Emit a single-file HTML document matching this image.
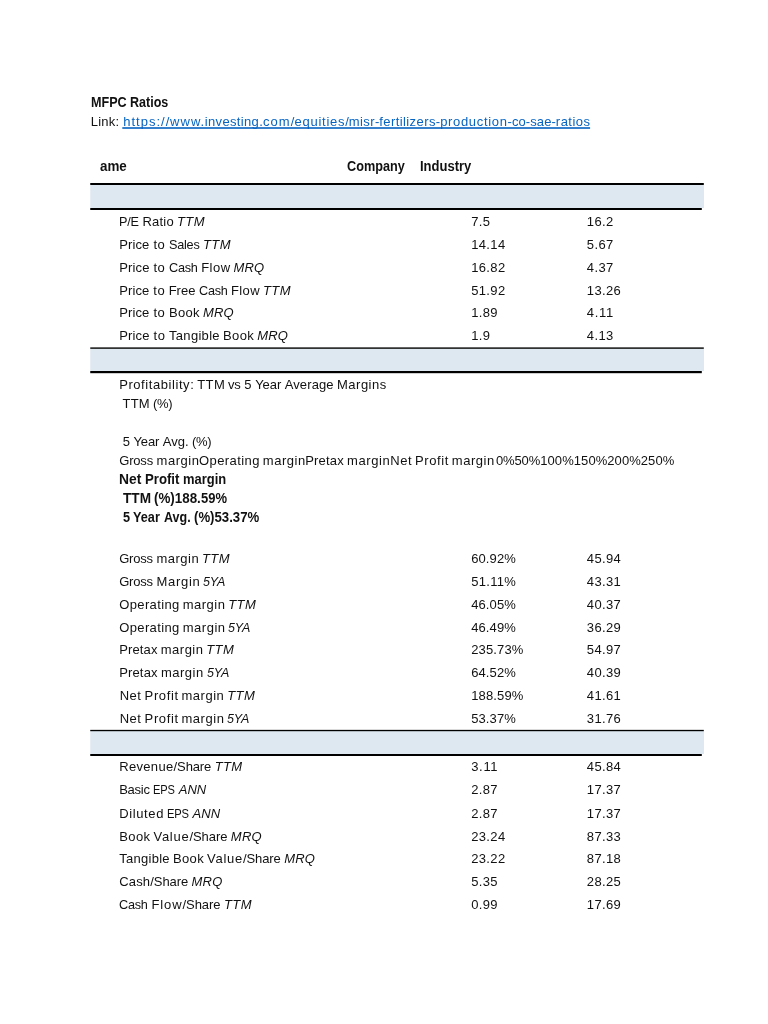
<!DOCTYPE html>
<html lang="en"><head><meta charset="utf-8"><title>MFPC Ratios</title>
<style>
html,body{margin:0;padding:0;background:#fff}
body{width:768px;height:1024px;position:relative;overflow:hidden;font-family:"Liberation Sans",sans-serif;font-size:13px;color:#111}
.bg{position:absolute;left:0;top:0}
.t{position:absolute;left:0;width:768px;height:20px;line-height:20px;margin:0;white-space:pre}
.t span,.t b,.t i{position:absolute;top:0;transform-origin:0 50%}
.t b{font-weight:bold} .t i{font-style:italic}
.h{font-size:15.2px}
.lnk{color:#0563c1;text-decoration:none}
</style></head><body>
<svg class="bg" width="768" height="1024" viewBox="0 0 768 1024">
<rect x="90.25" y="185.0" width="613.75" height="23.00" fill="#dee8f1"/>
<rect x="90.25" y="183.0" width="613.55" height="2.00" fill="#000"/>
<rect x="90.25" y="208.0" width="611.55" height="2.00" fill="#000"/>
<rect x="90.25" y="348.8" width="613.75" height="22.20" fill="#dee8f1"/>
<rect x="90.25" y="347.4" width="613.55" height="1.40" fill="#000"/>
<rect x="90.25" y="371.0" width="611.55" height="2.20" fill="#000"/>
<rect x="90.25" y="731.0" width="613.75" height="23.00" fill="#dee8f1"/>
<rect x="90.25" y="729.85" width="613.55" height="1.35" fill="#000"/>
<rect x="90.25" y="754.0" width="611.55" height="2.00" fill="#000"/>
<rect x="122.3" y="127.2" width="467.8" height="1.6" fill="#0563c1"/>
</svg>
<div class="t h" style="top:92.20px"><b style="left:90.80px;transform:scaleX(0.8300)">MFPC </b><b style="left:129.88px;transform:scaleX(0.8255)">Ratios</b></div>
<div class="t" style="top:111.80px"><span style="left:90.80px;letter-spacing:0.207px">Link: </span><a class="lnk"><span style="left:123.24px;letter-spacing:1.000px">https://</span><span style="left:170.11px;letter-spacing:1.000px">www.</span><span style="left:204.72px;letter-spacing:0.350px">investing.</span><span style="left:263.10px;letter-spacing:1.000px">com/</span><span style="left:294.50px;letter-spacing:0.739px">equities/</span><span style="left:348.76px;letter-spacing:0.429px">misr-</span><span style="left:379.37px;letter-spacing:0.401px">fertilizers-</span><span style="left:440.13px;letter-spacing:0.673px">production-</span><span style="left:511.90px;letter-spacing:0.093px">co-sae-</span><span style="left:555.83px;letter-spacing:0.475px">ratios</span></a></div>
<div class="t h" style="top:156.30px"><b style="left:100.20px;transform:scaleX(0.8815)">ame </b><b style="left:346.70px;transform:scaleX(0.8338)">Company </b><b style="left:420.00px;transform:scaleX(0.8561)">Industry</b></div>
<div class="t" style="top:212.25px"><span style="left:119.20px;letter-spacing:-0.250px;transform:scaleX(0.9733)">P/E </span><span style="left:142.48px;letter-spacing:0.214px">Ratio </span><i style="left:177.06px;letter-spacing:0.357px">TTM </i><span style="left:471.20px;letter-spacing:0.397px">7.5 </span><span style="left:586.80px;letter-spacing:0.370px">16.2</span></div>
<div class="t" style="top:235.00px"><span style="left:119.20px;letter-spacing:0.124px">Price </span><span style="left:153.43px;letter-spacing:0.450px">to </span><span style="left:168.82px;letter-spacing:-0.250px;transform:scaleX(0.9749)">Sales </span><i style="left:202.94px;letter-spacing:0.416px">TTM </i><span style="left:471.20px;letter-spacing:0.357px">14.14 </span><span style="left:586.80px;letter-spacing:0.370px">5.67</span></div>
<div class="t" style="top:257.75px"><span style="left:119.20px;letter-spacing:0.142px">Price </span><span style="left:153.52px;letter-spacing:0.450px">to </span><span style="left:168.94px;letter-spacing:-0.250px;transform:scaleX(0.9761)">Cash </span><span style="left:201.23px;letter-spacing:0.463px">Flow </span><i style="left:233.49px;letter-spacing:0.208px">MRQ </i><span style="left:471.20px;letter-spacing:0.357px">16.82 </span><span style="left:586.80px;letter-spacing:0.370px">4.37</span></div>
<div class="t" style="top:280.50px"><span style="left:119.20px;letter-spacing:0.106px">Price </span><span style="left:153.33px;letter-spacing:0.450px">to </span><span style="left:168.70px;letter-spacing:-0.014px">Free </span><span style="left:198.77px;letter-spacing:-0.250px;transform:scaleX(0.9714)">Cash </span><span style="left:230.90px;letter-spacing:0.417px">Flow </span><i style="left:263.01px;letter-spacing:0.383px">TTM </i><span style="left:471.20px;letter-spacing:0.357px">51.92 </span><span style="left:586.80px;letter-spacing:0.357px">13.26</span></div>
<div class="t" style="top:303.25px"><span style="left:119.20px;letter-spacing:0.135px">Price </span><span style="left:153.49px;letter-spacing:0.450px">to </span><span style="left:168.90px;letter-spacing:0.358px">Book </span><i style="left:203.02px;letter-spacing:0.194px">MRQ </i><span style="left:471.20px;letter-spacing:0.370px">1.89 </span><span style="left:586.80px;letter-spacing:0.693px">4.11</span></div>
<div class="t" style="top:326.00px"><span style="left:119.20px;letter-spacing:0.157px">Price </span><span style="left:153.60px;letter-spacing:0.450px">to </span><span style="left:169.04px;letter-spacing:0.299px">Tangible </span><span style="left:222.96px;letter-spacing:0.387px">Book </span><i style="left:257.18px;letter-spacing:0.238px">MRQ </i><span style="left:471.20px;letter-spacing:0.397px">1.9 </span><span style="left:586.80px;letter-spacing:0.370px">4.13</span></div>
<div class="t" style="top:374.75px"><span style="left:119.20px;letter-spacing:0.569px">Profitability: </span><span style="left:197.20px;letter-spacing:0.450px">TTM </span><span style="left:228.12px;letter-spacing:-0.250px">vs </span><span style="left:244.35px">5 </span><span style="left:255.15px;letter-spacing:-0.063px">Year </span><span style="left:284.64px;letter-spacing:0.130px">Average </span><span style="left:337.00px;letter-spacing:0.501px">Margins</span></div>
<div class="t" style="top:394.10px"><span style="left:122.50px;letter-spacing:0.232px">TTM </span><span style="left:152.90px;letter-spacing:-0.250px">(%)</span></div>
<div class="t" style="top:431.60px"><span style="left:122.67px">5 </span><span style="left:133.45px;letter-spacing:-0.089px">Year </span><span style="left:162.85px;letter-spacing:-0.019px">Avg. </span><span style="left:191.95px;letter-spacing:-0.237px">(%)</span></div>
<div class="t" style="top:451.00px"><span style="left:119.20px;letter-spacing:-0.169px">Gross </span><span style="left:156.58px;letter-spacing:0.542px">margin</span><span style="left:199.04px;letter-spacing:0.410px">Operating </span><span style="left:262.79px;letter-spacing:0.542px">margin</span><span style="left:305.25px;letter-spacing:0.172px">Pretax </span><span style="left:347.07px;letter-spacing:0.564px">marginNet </span><span style="left:414.94px;letter-spacing:0.634px">Profit </span><span style="left:451.84px;letter-spacing:0.542px">margin</span><span style="left:496.00px;letter-spacing:-0.144px">0%50%</span><span style="left:540.23px;letter-spacing:0.090px">100%</span><span style="left:573.75px;letter-spacing:0.090px">150%</span><span style="left:607.27px;letter-spacing:0.090px">200%</span><span style="left:640.78px;letter-spacing:0.090px">250%</span></div>
<div class="t h" style="top:468.50px"><b style="left:119.20px;transform:scaleX(0.9113)">Net </b><b style="left:144.87px;transform:scaleX(0.8668)">Profit </b><b style="left:182.61px;transform:scaleX(0.8528)">margin</b></div>
<div class="t h" style="top:487.50px"><b style="left:122.50px;transform:scaleX(0.8967)">TTM </b><b style="left:153.87px;transform:scaleX(0.8805)">(%)188.</b><b style="left:200.70px;transform:scaleX(0.8551)">59%</b></div>
<div class="t h" style="top:506.80px"><b style="left:122.75px;transform:scaleX(0.8358)">5 </b><b style="left:133.32px;transform:scaleX(0.8358)">Year </b><b style="left:163.52px;transform:scaleX(0.8223)">Avg. </b><b style="left:193.50px;transform:scaleX(0.8683)">(%)53.37%</b></div>
<div class="t" style="top:549.30px"><span style="left:119.20px;letter-spacing:-0.207px">Gross </span><span style="left:156.41px;letter-spacing:0.504px">margin </span><i style="left:202.05px;letter-spacing:0.365px">TTM </i><span style="left:471.20px;letter-spacing:0.106px">60.92% </span><span style="left:586.80px;letter-spacing:0.357px">45.94</span></div>
<div class="t" style="top:572.10px"><span style="left:119.20px;letter-spacing:-0.184px">Gross </span><span style="left:156.51px;letter-spacing:0.694px">Margin </span><i style="left:203.11px;letter-spacing:-0.250px;transform:scaleX(0.9587)">5YA </i><span style="left:471.20px;letter-spacing:0.297px">51.11% </span><span style="left:586.80px;letter-spacing:0.357px">43.31</span></div>
<div class="t" style="top:594.80px"><span style="left:119.20px;letter-spacing:0.376px">Operating </span><span style="left:182.67px;letter-spacing:0.504px">margin </span><i style="left:228.30px;letter-spacing:0.364px">TTM </i><span style="left:471.20px;letter-spacing:0.106px">46.05% </span><span style="left:586.80px;letter-spacing:0.357px">40.37</span></div>
<div class="t" style="top:617.60px"><span style="left:119.20px;letter-spacing:0.382px">Operating </span><span style="left:182.72px;letter-spacing:0.511px">margin </span><i style="left:228.40px;letter-spacing:-0.250px;transform:scaleX(0.9569)">5YA </i><span style="left:471.20px;letter-spacing:0.106px">46.49% </span><span style="left:586.80px;letter-spacing:0.357px">36.29</span></div>
<div class="t" style="top:640.40px"><span style="left:119.20px;letter-spacing:0.126px">Pretax </span><span style="left:160.77px;letter-spacing:0.491px">margin </span><i style="left:206.34px;letter-spacing:0.344px">TTM </i><span style="left:471.20px;letter-spacing:0.142px">235.73% </span><span style="left:586.80px;letter-spacing:0.357px">54.97</span></div>
<div class="t" style="top:663.00px"><span style="left:119.20px;letter-spacing:0.151px">Pretax </span><span style="left:160.91px;letter-spacing:0.519px">margin </span><i style="left:206.63px;letter-spacing:-0.250px;transform:scaleX(0.9579)">5YA </i><span style="left:471.20px;letter-spacing:0.106px">64.52% </span><span style="left:586.80px;letter-spacing:0.357px">40.39</span></div>
<div class="t" style="top:685.80px"><span style="left:119.63px;letter-spacing:0.450px">Net </span><span style="left:144.58px;letter-spacing:0.626px">Profit </span><span style="left:181.43px;letter-spacing:0.531px">margin </span><i style="left:227.21px;letter-spacing:0.409px">TTM </i><span style="left:471.20px;letter-spacing:0.142px">188.59% </span><span style="left:586.80px;letter-spacing:0.357px">41.61</span></div>
<div class="t" style="top:708.60px"><span style="left:119.64px;letter-spacing:0.450px">Net </span><span style="left:144.60px;letter-spacing:0.633px">Profit </span><span style="left:181.49px;letter-spacing:0.540px">margin </span><i style="left:227.32px;letter-spacing:-0.250px;transform:scaleX(0.9602)">5YA </i><span style="left:471.20px;letter-spacing:0.106px">53.37% </span><span style="left:586.80px;letter-spacing:0.357px">31.76</span></div>
<div class="t" style="top:757.30px"><span style="left:119.20px;letter-spacing:0.333px">Revenue/</span><span style="left:177.12px;letter-spacing:-0.131px">Share </span><i style="left:214.66px;letter-spacing:0.356px">TTM </i><span style="left:471.20px;letter-spacing:0.693px">3.11 </span><span style="left:586.80px;letter-spacing:0.357px">45.84</span></div>
<div class="t" style="top:780.20px"><span style="left:119.18px;letter-spacing:-0.250px">Basic </span><span style="left:153.31px;letter-spacing:-0.250px;transform:scaleX(0.8539)">EPS </span><i style="left:178.66px;letter-spacing:0.061px">ANN </i><span style="left:471.20px;letter-spacing:0.370px">2.87 </span><span style="left:586.80px;letter-spacing:0.357px">17.37</span></div>
<div class="t" style="top:803.80px"><span style="left:119.20px;letter-spacing:0.629px">Diluted </span><span style="left:166.83px;letter-spacing:-0.250px;transform:scaleX(0.8616)">EPS </span><i style="left:192.41px;letter-spacing:0.187px">ANN </i><span style="left:471.20px;letter-spacing:0.370px">2.87 </span><span style="left:586.80px;letter-spacing:0.357px">17.37</span></div>
<div class="t" style="top:826.60px"><span style="left:119.20px;letter-spacing:0.395px">Book </span><span style="left:153.44px;letter-spacing:0.734px">Value/</span><span style="left:192.95px;letter-spacing:-0.049px">Share </span><i style="left:230.85px;letter-spacing:0.250px">MRQ </i><span style="left:471.20px;letter-spacing:0.357px">23.24 </span><span style="left:586.80px;letter-spacing:0.357px">87.33</span></div>
<div class="t" style="top:849.40px"><span style="left:119.20px;letter-spacing:0.281px">Tangible </span><span style="left:172.99px;letter-spacing:0.360px">Book </span><span style="left:207.11px;letter-spacing:0.707px">Value/</span><span style="left:246.48px;letter-spacing:-0.078px">Share </span><i style="left:284.26px;letter-spacing:0.198px">MRQ </i><span style="left:471.20px;letter-spacing:0.357px">23.22 </span><span style="left:586.80px;letter-spacing:0.357px">87.18</span></div>
<div class="t" style="top:872.00px"><span style="left:119.20px;letter-spacing:0.184px">Cash/</span><span style="left:153.84px;letter-spacing:-0.085px">Share </span><i style="left:191.58px;letter-spacing:0.186px">MRQ </i><span style="left:471.20px;letter-spacing:0.370px">5.35 </span><span style="left:586.80px;letter-spacing:0.357px">28.25</span></div>
<div class="t" style="top:894.90px"><span style="left:119.20px;letter-spacing:-0.250px;transform:scaleX(0.9755)">Cash </span><span style="left:151.47px;letter-spacing:0.913px">Flow/</span><span style="left:186.11px;letter-spacing:-0.077px">Share </span><i style="left:223.89px;letter-spacing:0.442px">TTM </i><span style="left:471.20px;letter-spacing:0.370px">0.99 </span><span style="left:586.80px;letter-spacing:0.357px">17.69</span></div>
</body></html>
